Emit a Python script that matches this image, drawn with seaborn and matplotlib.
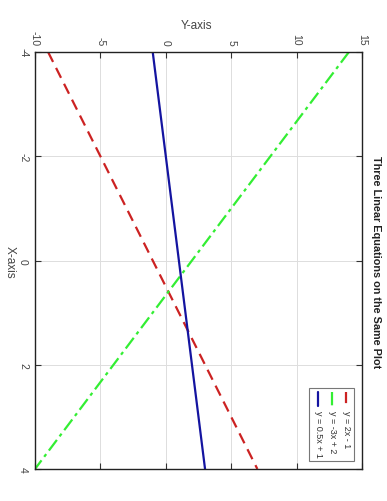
import numpy as np
import pandas as pd
import matplotlib
matplotlib.use('Agg')
import matplotlib.pyplot as plt
import seaborn as sns
from matplotlib.lines import Line2D

# data (the original plot is shown turned 90 degrees clockwise)
x_vals = [-4, 4]
red_y = [-9, 7]        # y = 2x - 1
green_y = [14, -10]    # y = -3x + 2
blue_y = [-1, 3]       # y = 0.5x + 1
labels = ['y = 2x - 1', 'y = -3x + 2', 'y = 0.5x + 1']
colors = ['#cc2222', '#33ee33', '#1414a0']
styles = [(0, (5, 3)), (0, (6, 2, 1.5, 2)), '-']
x_ticks = [-4, -2, 0, 2, 4]
y_ticks = [-10, -5, 0, 5, 10, 15]

sns.set_style('white')
plt.rcParams['font.family'] = ['Liberation Sans', 'DejaVu Sans']

fig = plt.figure(figsize=(3.87, 5.02), dpi=100)
ax = fig.add_axes([35 / 387, 1 - 470 / 502, 327 / 387, 417 / 502])

series = [red_y, green_y, blue_y]
for yv, lab, col, ls in zip(series, labels, colors, styles):
    df = pd.DataFrame({'x': x_vals, 'y': yv})
    sns.lineplot(data=df, x='y', y='x', sort=False, orient='y', ax=ax,
                 color=col, linewidth=1.6, linestyle=ls, label=None)

ax.set_xlim(-10, 15)
ax.set_ylim(4, -4)
ax.set_xticks(y_ticks)
ax.set_yticks(x_ticks)
ax.set_xticklabels([str(t) for t in y_ticks], rotation=-90, fontsize=7.5, color='#444444')
ax.set_yticklabels([str(t) for t in x_ticks], rotation=-90, fontsize=7.5, color='#444444', va='center')
ax.xaxis.tick_top()
ax.tick_params(axis='both', direction='in', length=4, width=0.8, top=True, bottom=True,
               left=True, right=True, color='#333333', pad=5)
ax.grid(True, color='#dddddd', linewidth=0.7)
for s in ax.spines.values():
    s.set_color('#222222')
    s.set_linewidth(1.0)
ax.set_xlabel('')
ax.set_ylabel('')

fig.text(196 / 387, 1 - 26 / 502, 'Y-axis', ha='center', va='center', fontsize=8.5, color='#444444')
fig.text(10 / 387, 1 - 262 / 502, 'X-axis', ha='center', va='center', rotation=-90,
         fontsize=8.5, color='#444444')
fig.text(376 / 387, 1 - 262 / 502, 'Three Linear Equations on the Same Plot', ha='center',
         va='center', rotation=-90, fontsize=7.8, fontweight='bold', color='#222222')

# rotated legend drawn by hand (figure pixel coords)
def fx(px):
    return px / 387

def fy(py):
    return 1 - py / 502

box = plt.Rectangle((fx(309), fy(462)), fx(354) - fx(309), fy(389) - fy(462),
                    transform=fig.transFigure, facecolor='white', edgecolor='#777777', linewidth=0.8)
fig.add_artist(box)
for i, (lab, col, ls) in enumerate(zip(labels, colors, styles)):
    xp = 346 - 14 * i
    fig.add_artist(Line2D([fx(xp), fx(xp)], [fy(393), fy(407)], transform=fig.transFigure,
                          color=col, linewidth=1.6, linestyle=ls))
    fig.text(fx(xp), fy(411), lab, rotation=-90, ha='center', va='top', fontsize=6.5,
             color='#333333')

fig.savefig('out.png', dpi=100)
